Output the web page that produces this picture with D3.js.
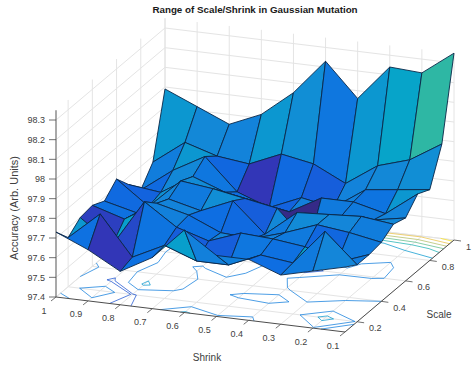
<!DOCTYPE html>
<html>
<head>
<meta charset="utf-8">
<script src="https://cdnjs.cloudflare.com/ajax/libs/d3/7.8.5/d3.min.js"></script>
<style>
body{margin:0;background:#fff}
text{font-family:"Liberation Sans",Arial,sans-serif}
</style>
</head>
<body>
<div id="content"></div>
<script>
const W = 474, H = 365;

const shrink = [1,0.9,0.8,0.7,0.6,0.5,0.4,0.3,0.2,0.1];
const scale  = [0.1,0.2,0.3,0.4,0.5,0.6,0.7,0.8,0.9,1];

// accuracy, one list per scale value, ordered like shrink
const acc01 = [97.73,97.66,97.57,97.66,97.82,97.71,97.71,97.65,97.69,97.73];
const acc02 = [97.65,97.79,97.59,97.67,97.61,97.61,97.68,97.66,97.84,97.69];
const acc03 = [97.70,97.58,97.82,97.71,97.66,97.72,97.71,97.69,97.63,97.69];
const acc04 = [97.71,97.66,97.76,97.72,97.65,97.64,97.69,97.75,97.73,97.70];
const acc05 = [97.68,97.64,97.73,97.69,97.76,97.61,97.74,97.75,97.76,97.74];
const acc06 = [97.74,97.62,97.77,97.75,97.72,97.69,97.53,97.69,97.69,97.72];
const acc07 = [97.66,97.64,97.74,97.68,97.65,97.62,97.71,97.71,97.67,97.79];
const acc08 = [97.58,97.70,97.79,97.63,97.57,97.64,97.61,97.72,97.74,97.76];
const acc09 = [97.67,97.79,97.74,97.72,97.79,97.76,97.68,97.79,97.84,97.94];
const acc10 = [97.99,97.92,97.85,97.92,98.05,98.23,98.06,98.24,98.23,98.35];
const accuracy = [acc01,acc02,acc03,acc04,acc05,acc06,acc07,acc08,acc09,acc10];

const shrinkTicks = [1,0.9,0.8,0.7,0.6,0.5,0.4,0.3,0.2,0.1];
const scaleTicks  = [0.2,0.4,0.6,0.8,1];
const zTicks      = [97.4,97.5,97.6,97.7,97.8,97.9,98,98.1,98.2,98.3];
const levels      = [97.6,97.7,97.8,97.9,98,98.1,98.2,98.3];

const parulaPos   = [0,0.05,0.1,0.15,0.25,0.375,0.5,0.625,0.75,0.875,1];
const parulaStops = ["#352a87","#3236b8","#1560dd","#0d6fe2","#1487d8","#06a4ca","#2eb7a4","#87bf77","#d1bb59","#fec832","#f9fb0e"];

const ZMIN = 97.4, ZMAX = 98.35;

// orthographic box: each data axis moves the point along its own screen direction
const ox = {x:56, y:297};
const shrinkX = d3.scaleLinear().domain([1,0.1]).range([0,289]);
const shrinkY = d3.scaleLinear().domain([1,0.1]).range([0,35]);
const scaleX  = d3.scaleLinear().domain([0.1,1]).range([0,109]);
const scaleY  = d3.scaleLinear().domain([0.1,1]).range([0,-92]);
const zY      = d3.scaleLinear().domain([97.4,98.3]).range([0,-177]);

function project(s, c, z){
    return [ ox.x + shrinkX(s) + scaleX(c),
             ox.y + shrinkY(s) + scaleY(c) + zY(z) ];
}

const allZ = accuracy.flat();
const zExtent = d3.extent(allZ);
const colorT = d3.scaleLinear().domain(zExtent).range([0,1]);
const parula = d3.scaleLinear()
    .domain(parulaPos)
    .range(parulaStops)
    .interpolate(d3.interpolateRgb)
    .clamp(true);
const colorOf = z => parula(colorT(z));

const line = d3.line();

const svg = d3.select("#content").append("svg")
    .attr("width",W).attr("height",H)
    .style("display","block");
svg.append("rect").attr("width",W).attr("height",H).attr("fill","#fff");

////////////////// grid on the three back planes
const gridColor = "#e4e4e4";
const grid = svg.append("g").attr("fill","none").attr("stroke",gridColor).attr("stroke-width",1);
const sMin = 0.1, sMax = 1;

function seg(a,b){ grid.append("path").attr("d", line([a,b])); }

for(let s of shrinkTicks){
    seg(project(s,sMin,ZMIN), project(s,sMax,ZMIN));
    seg(project(s,sMax,ZMIN), project(s,sMax,ZMAX));
}
for(let c of scaleTicks){
    seg(project(sMax,c,ZMIN), project(sMin,c,ZMIN));
    seg(project(sMax,c,ZMIN), project(sMax,c,ZMAX));
}
for(let z of zTicks){
    seg(project(sMax,sMin,z), project(sMax,sMax,z));
    seg(project(sMax,sMax,z), project(sMin,sMax,z));
}

////////////////// contours on the floor
const toShrink = d3.scaleLinear().domain([0,9]).range([1,0.1]);
const toScale  = d3.scaleLinear().domain([0,9]).range([0.1,1]);
const contours = d3.contours().size([10,10]).thresholds(levels)(allZ);

// d3 closes the rings along the data border, those pieces are not real contour lines
const inside = p => p[0]>0 && p[0]<10 && p[1]>0 && p[1]<10;

const contourG = svg.append("g").attr("fill","none").attr("stroke-width",1).attr("stroke-opacity",0.75);
for(let c of contours){
    let d = "";
    for(let poly of c.coordinates) for(let ring of poly){
        for(let k=0; k<ring.length-1; k++){
            if(!inside(ring[k]) || !inside(ring[k+1])) continue;
            const a = project(toShrink(ring[k][0]-0.5), toScale(ring[k][1]-0.5), ZMIN);
            const b = project(toShrink(ring[k+1][0]-0.5), toScale(ring[k+1][1]-0.5), ZMIN);
            d += line([a,b]);
        }
    }
    contourG.append("path").attr("d",d).attr("stroke",colorOf(c.value));
}

////////////////// axes
const axisColor = "#4d4d4d";
const textColor = "#404040";
const axes = svg.append("g").attr("fill","none");
axes.append("path")
    .attr("d", line([project(sMax,sMin,ZMIN), project(sMax,sMin,ZMAX)]))
    .attr("stroke","#8c8c8c").attr("stroke-width",1.5);
axes.append("path")
    .attr("d", line([project(sMax,sMin,ZMIN), project(sMin,sMin,ZMIN), project(sMin,sMax,ZMIN)]))
    .attr("stroke",axisColor).attr("stroke-width",1);

const labels = svg.append("g").attr("fill",textColor).attr("font-size",9);

for(let z of zTicks){
    const p = project(sMax,sMin,z);
    axes.append("path").attr("d", line([p,[p[0]-7,p[1]]]))
        .attr("stroke",axisColor).attr("stroke-width",0.8);
    labels.append("text").attr("x",p[0]-11).attr("y",p[1]+3.2)
        .attr("text-anchor","end").text(z);
}
for(let s of shrinkTicks){
    const p = project(s,sMin,ZMIN);
    axes.append("path").attr("d", line([p,[p[0]-5,p[1]+4]]))
        .attr("stroke",axisColor).attr("stroke-width",0.8);
    labels.append("text").attr("x",p[0]-12).attr("y",p[1]+16.5)
        .attr("text-anchor","middle").text(s);
}
for(let c of scaleTicks){
    const p = project(sMin,c,ZMIN);
    axes.append("path").attr("d", line([p,[p[0]+7,p[1]+1]]))
        .attr("stroke",axisColor).attr("stroke-width",0.8);
    labels.append("text").attr("x",p[0]+12).attr("y",p[1]+9.5).text(c);
}

////////////////// surface, painted back to front
const patches = [];
for(let j=0; j<scale.length-1; j++){
    for(let i=0; i<shrink.length-1; i++){
        patches.push({i, j, depth: j*10.22 - i*3.89});
    }
}
patches.sort((a,b)=> b.depth-a.depth);

svg.append("g").selectAll(".patch")
    .data(patches)
    .enter()
        .append("path")
        .attr("class","patch")
        .attr("d", d=> line([
                project(shrink[d.i],   scale[d.j],   accuracy[d.j][d.i]),
                project(shrink[d.i+1], scale[d.j],   accuracy[d.j][d.i+1]),
                project(shrink[d.i+1], scale[d.j+1], accuracy[d.j+1][d.i+1]),
                project(shrink[d.i],   scale[d.j+1], accuracy[d.j+1][d.i])
            ])+"Z")
        // matlab takes the facet colour from its lowest index corner (smallest shrink, smallest scale)
        .attr("fill", d=> colorOf(accuracy[d.j][d.i+1]))
        .attr("stroke","#0a2748")
        .attr("stroke-width",0.9)
        .attr("stroke-linejoin","round");

////////////////// titles
svg.append("text").attr("x",255).attr("y",13)
    .attr("text-anchor","middle").attr("font-size",9.8).attr("font-weight","bold")
    .attr("fill","#1a1a1a").text("Range of Scale/Shrink in Gaussian Mutation");
svg.append("text").attr("x",207).attr("y",361)
    .attr("text-anchor","middle").attr("font-size",10).attr("fill",textColor).text("Shrink");
svg.append("text").attr("x",439).attr("y",318)
    .attr("text-anchor","middle").attr("font-size",10).attr("fill",textColor).text("Scale");
svg.append("text").attr("transform","translate(18,208) rotate(-90)")
    .attr("text-anchor","middle").attr("font-size",11).attr("fill",textColor).text("Accuracy (Arb. Units)");
</script>
</body>
</html>
